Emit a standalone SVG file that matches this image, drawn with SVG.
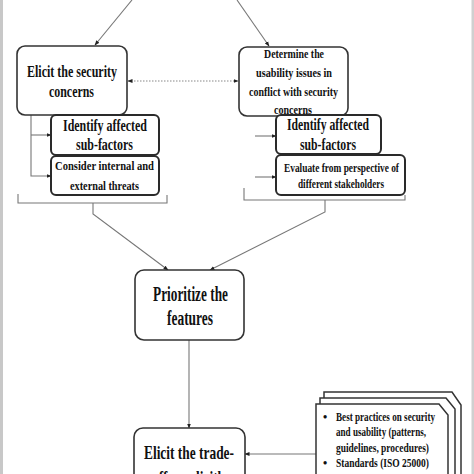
<svg xmlns="http://www.w3.org/2000/svg" width="474" height="474" viewBox="0 0 474 474">
<defs>
<marker id="ah" viewBox="0 0 10 10" refX="9" refY="5" markerWidth="5" markerHeight="5" orient="auto-start-reverse" markerUnits="userSpaceOnUse">
<path d="M0,1 L10,5 L0,9 z" fill="#222"/>
</marker>
<style>
.box{fill:#fff;stroke:#333;stroke-width:1.6}
.sub{fill:#fff;stroke:#2a2a2a;stroke-width:2}
.page{fill:#fff;stroke:#333;stroke-width:1.5}
.ln{fill:none;stroke:#777;stroke-width:1.1}
.dot{fill:none;stroke:#888;stroke-width:1.1;stroke-dasharray:1.5 1.5}
text{font-family:"Liberation Serif","Times New Roman",serif;font-weight:bold;fill:#111}
</style>
</defs>
<rect x="0" y="0" width="474" height="474" fill="#fff"/>
<rect x="0" y="0" width="3" height="474" fill="#c8c8c8"/>
<rect x="471.5" y="0" width="2.5" height="474" fill="#d0d0d0"/>

<g id="connectors">
<line class="ln" x1="132" y1="0" x2="95" y2="45" marker-end="url(#ah)"/>
<line class="ln" x1="237" y1="0" x2="269" y2="46" marker-end="url(#ah)"/>
<line class="dot" x1="128" y1="81" x2="238" y2="81" marker-start="url(#ah)" marker-end="url(#ah)"/>
<path class="ln" d="M31,115 V176 H51" marker-end="url(#ah)"/>
<line class="ln" x1="31" y1="135" x2="51" y2="135" marker-end="url(#ah)"/>
<line class="ln" x1="255" y1="136" x2="276" y2="136" marker-end="url(#ah)"/>
<line class="ln" x1="255" y1="177" x2="276" y2="177" marker-end="url(#ah)"/>
<path class="ln" d="M18,194 V203 H167 V195"/>
<path class="ln" d="M93,203 V214 L168,270" marker-end="url(#ah)"/>
<path class="ln" d="M244,188 V200 H405 V195"/>
<path class="ln" d="M325,200 V212 L210,270" marker-end="url(#ah)"/>
<line class="ln" x1="189" y1="340" x2="189" y2="428" marker-end="url(#ah)"/>
<line class="ln" x1="316" y1="454" x2="245" y2="454" marker-end="url(#ah)"/>
</g>

<g id="elicit-security">
<rect class="box" x="17" y="46" width="110" height="69" rx="8"/>
<text x="27" y="77" font-size="17.5" textLength="90" lengthAdjust="spacingAndGlyphs">Elicit the security</text>
<text x="49" y="97" font-size="17.5" textLength="45" lengthAdjust="spacingAndGlyphs">concerns</text>
</g>

<g id="identify-left">
<rect class="sub" x="51" y="115" width="108" height="40" rx="5"/>
<text x="63" y="131" font-size="17" textLength="84" lengthAdjust="spacingAndGlyphs">Identify affected</text>
<text x="76" y="150" font-size="17" textLength="57" lengthAdjust="spacingAndGlyphs">sub-factors</text>
</g>

<g id="consider-threats">
<rect class="sub" x="51" y="156" width="108" height="39" rx="5"/>
<text x="55" y="170" font-size="13" textLength="99" lengthAdjust="spacingAndGlyphs">Consider internal and</text>
<text x="70" y="190" font-size="13" textLength="69" lengthAdjust="spacingAndGlyphs">external threats</text>
</g>

<g id="determine-usability">
<rect class="box" x="239" y="47" width="109" height="69" rx="8"/>
<text x="264" y="58" font-size="12.5" textLength="60" lengthAdjust="spacingAndGlyphs">Determine the</text>
<text x="256" y="77" font-size="12.5" textLength="76" lengthAdjust="spacingAndGlyphs">usability issues in</text>
<text x="249" y="96" font-size="12.5" textLength="89" lengthAdjust="spacingAndGlyphs">conflict with security</text>
<text x="274" y="113.5" font-size="12.5" textLength="38" lengthAdjust="spacingAndGlyphs">concerns</text>
</g>

<g id="identify-right">
<rect class="sub" x="276" y="115" width="105" height="39" rx="5"/>
<text x="287" y="130" font-size="17" textLength="82" lengthAdjust="spacingAndGlyphs">Identify affected</text>
<text x="300" y="150" font-size="17" textLength="56" lengthAdjust="spacingAndGlyphs">sub-factors</text>
</g>

<g id="evaluate-stakeholders">
<rect class="sub" x="276" y="155" width="129" height="40" rx="5"/>
<text x="284" y="172" font-size="12" textLength="115" lengthAdjust="spacingAndGlyphs">Evaluate from perspective of</text>
<text x="298" y="188" font-size="12" textLength="86" lengthAdjust="spacingAndGlyphs">different stakeholders</text>
</g>

<g id="prioritize">
<rect class="box" x="135" y="270" width="109" height="70" rx="9"/>
<text x="153" y="301" font-size="20" textLength="75" lengthAdjust="spacingAndGlyphs">Prioritize the</text>
<text x="167" y="325" font-size="20" textLength="46" lengthAdjust="spacingAndGlyphs">features</text>
</g>

<g id="elicit-tradeoffs">
<rect class="box" x="134" y="428" width="111" height="70" rx="9"/>
<text x="144" y="459" font-size="19" textLength="90" lengthAdjust="spacingAndGlyphs">Elicit the trade-</text>
<text x="152" y="484" font-size="19" textLength="76" lengthAdjust="spacingAndGlyphs">offs explicitly</text>
</g>

<g id="resources">
<path class="page" d="M324,500 V392 H452 L461,405 V500"/>
<path class="page" d="M320,500 V398 H446 L455,409 V500"/>
<path class="page" d="M316,500 V404 H439 L448,415 V500"/>
<text x="323" y="421" font-size="12">•</text>
<text x="336" y="421" font-size="12" textLength="99" lengthAdjust="spacingAndGlyphs">Best practices  on security</text>
<text x="336" y="436" font-size="12" textLength="90" lengthAdjust="spacingAndGlyphs">and usability (patterns,</text>
<text x="336" y="452" font-size="12" textLength="93" lengthAdjust="spacingAndGlyphs">guidelines, procedures)</text>
<text x="323" y="467" font-size="12">•</text>
<text x="336" y="467" font-size="12" textLength="93" lengthAdjust="spacingAndGlyphs">Standards (ISO 25000)</text>
</g>
</svg>
